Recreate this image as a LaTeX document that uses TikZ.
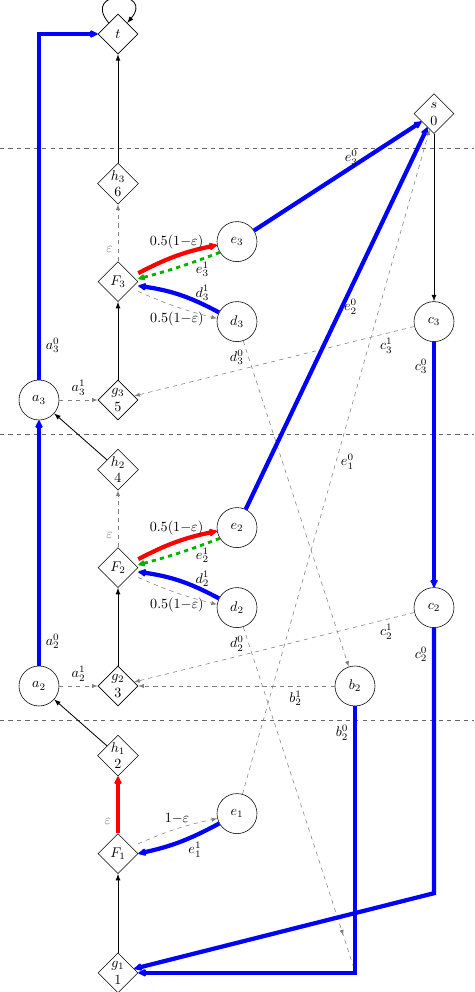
\documentclass[tikz,border=0pt]{standalone}
\usepackage{amsmath}
\usetikzlibrary{positioning, shapes.geometric, arrows, arrows.meta, decorations.markings}
\tikzset{
	vertex/.style={
		circle,
		draw,
		minimum size=1cm,
		inner sep=0pt,
	},
	gate/.style={
		diamond,
		draw,
		aspect=1,
		align=center,
		minimum size=1cm,
		inner sep=0pt,
	},
	link/.style={
		->,
		semithick,
	},
	aux/.style={
		->,
		dashed,
		draw=gray,
	},
	flow/.style={
		-{Latex[length=7pt,width=6.5pt,round]},
		draw=blue,
		line width=3pt,
	},
	hot/.style={
		-{Latex[length=7pt,width=6.5pt,round]},
		draw=red,
		line width=3pt,
	},
	back/.style={
		-{Latex[length=6pt,width=5.5pt,round]},
		draw=green!70!black,
		dashed,
		line width=2pt,
	},
	sep/.style={
		dashed,
		black!60,
	},
}

\begin{document}
\begin{tikzpicture}[>=latex]
		\useasboundingbox (0,0) rectangle (11.85,-24.8);
		% Place nodes
		\node [gate] (t) at (2.95,-0.85) {$t$};
		\node [gate] (s) at (10.85,-2.84) {$s$\\$0$};
		
		\node [gate] (h3) at (2.95,-4.59) {$h_3$\\$6$};
		\node [vertex] (e3) at (5.925,-6.04) {$e_3$};
		\node [gate] (F3) at (2.95,-7.04) {$F_3$};
		\node [vertex] (d3) at (5.925,-8.04) {$d_3$};
		\node [vertex] (c3) at (10.85,-8.04) {$c_3$};
		\node [vertex] (a3) at (0.975,-10.0) {$a_3$};
		\node [gate] (g3) at (2.95,-10.0) {$g_3$\\$5$};
		
		\node [gate] (h2) at (2.95,-11.74) {$h_2$\\$4$};
		\node [vertex] (e2) at (5.925,-13.19) {$e_2$};
		\node [gate] (F2) at (2.95,-14.19) {$F_2$};
		\node [vertex] (d2) at (5.925,-15.19) {$d_2$};
		\node [vertex] (c2) at (10.85,-15.19) {$c_2$};
		\node [vertex] (a2) at (0.975,-17.15) {$a_2$};
		\node [gate] (g2) at (2.95,-17.15) {$g_2$\\$3$};
		\node [vertex] (b2) at (8.875,-17.15) {$b_2$};
		
		\node [gate] (h1) at (2.95,-18.89) {$h_1$\\$2$};
		\node [vertex] (e1) at (5.925,-20.34) {$e_1$};
		\node [gate] (F1) at (2.95,-21.34) {$F_1$};
		\node [gate] (g1) at (2.95,-24.32) {$g_1$\\$1$};
		
		\coordinate (cg) at (10.85,-22.33);
		\coordinate (b1) at (8.83,-24.15);
		
		% separators
		\draw [sep] (0,-3.7) -- (11.85,-3.7);
		\draw [sep] (0,-10.85) -- (11.85,-10.85);
		\draw [sep] (0,-18.0) -- (11.85,-18.0);
		
		% top
		\draw [link] (t) to [loop above, out=130, in=50, min distance=1.1cm] (t);
		\draw [flow] (a3) |- node[pos=0.05, right] {$a_3^0$} (t);
		\draw [link] (h3) to (t);
		\draw [link] (s) to (c3);
		
		% stage 3
		\draw [aux] (F3) to node[left, pos=0.2, text=gray] {$\varepsilon$} (h3);
		\draw [hot] ([yshift=6pt]F3.east) to [bend left=8] node[above] {$0.5(1{-}\varepsilon)$} (e3.190);
		\draw [back] (e3.212) to [bend left=3] node[below, pos=0.2, inner sep=1pt] {$e_3^1$} ([yshift=2pt]F3.east);
		\draw [flow] (d3.153) to [bend right=10] node[above, pos=0.2, inner sep=1pt] {$d_3^1$} ([yshift=-3pt]F3.east);
		\draw [aux] ([yshift=-7pt]F3.east) to [bend right=5] node[below] {$0.5(1{-}\varepsilon)$} (d3.171);
		\draw [link] (g3) to (F3);
		\draw [aux] (a3) to node[above] {$a_3^1$} (g3);
		\draw [aux] (c3) to node[below, pos=0.1] {$c_3^1$} (g3);
		\draw [flow] (e3) to node[above, pos=0.58, inner sep=0pt] {$e_3^0$} (s);
		\draw [aux] (d3) to node[left, pos=0.05] {$d_3^0$} (b2);
		\draw [flow] (c3) to node[left, pos=0.1] {$c_3^0$} (c2);
		\draw [link] (h2) to (a3);
		
		% stage 2
		\draw [aux] (F2) to node[left, pos=0.2, text=gray] {$\varepsilon$} (h2);
		\draw [hot] ([yshift=6pt]F2.east) to [bend left=8] node[above] {$0.5(1{-}\varepsilon)$} (e2.190);
		\draw [back] (e2.212) to [bend left=3] node[below, pos=0.2, inner sep=1pt] {$e_2^1$} ([yshift=2pt]F2.east);
		\draw [flow] (d2.153) to [bend right=10] node[above, pos=0.2, inner sep=1pt] {$d_2^1$} ([yshift=-3pt]F2.east);
		\draw [aux] ([yshift=-7pt]F2.east) to [bend right=5] node[below] {$0.5(1{-}\varepsilon)$} (d2.171);
		\draw [link] (g2) to (F2);
		\draw [aux] (a2) to node[above] {$a_2^1$} (g2);
		\draw [aux] (c2) to node[below, pos=0.1] {$c_2^1$} (g2);
		\draw [aux] (b2) to node[below, pos=0.2] {$b_2^1$} (g2);
		\draw [flow] (e2) to node[right, pos=0.53, inner sep=0pt] {$e_2^0$} (s);
		\draw [aux, -, postaction={decorate}, decoration={markings, mark=at position 0.91 with {\arrow{latex}}}] (d2) to node[left, pos=0.05] {$d_2^0$} (b1);
		\draw [flow] (a2) to node[right, pos=0.1] {$a_2^0$} (a3);
		\draw [flow] (c2) -- node[left, pos=0.1] {$c_2^0$} (cg) -- (g1);
		\draw [flow] (b2) |- node[left, pos=0.05] {$b_2^0$} (g1);
		\draw [link] (h1) to (a2);
		
		% stage 1
		\draw [hot] (F1) to node[left, pos=0.2, text=gray] {$\varepsilon$} (h1);
		\draw [aux] ([yshift=7pt]F1.east) to [bend left=6] node[above] {$1{-}\varepsilon$} (e1.194);
		\draw [flow] (e1.209) to [bend left=8] node[below, pos=0.3] {$e_1^1$} (F1.east);
		\draw [link] (g1) to (F1);
		\draw [aux] (e1) to node[right, pos=0.5] {$e_1^0$} (s);

	\end{tikzpicture}
\end{document}
